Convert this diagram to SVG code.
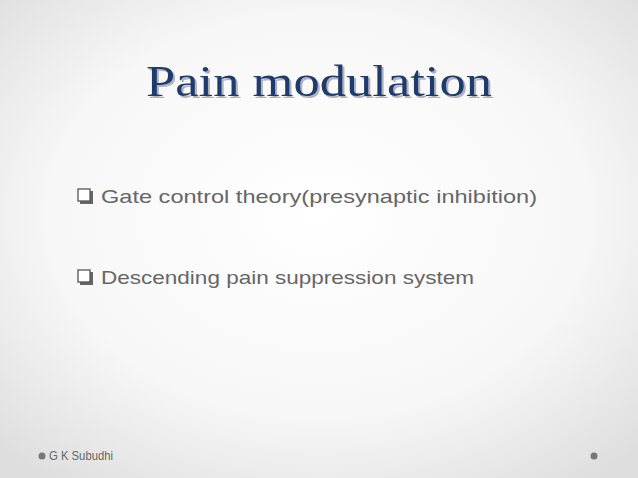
<svg xmlns="http://www.w3.org/2000/svg" width="638" height="478" viewBox="0 0 638 478">
<defs>
<radialGradient id="bg" cx="50%" cy="45%" r="70%">
<stop offset="0" stop-color="#ffffff"/><stop offset="0.6" stop-color="#f7f7f7"/><stop offset="1" stop-color="#dedede"/>
</radialGradient>
<filter id="sh" x="-10%" y="-20%" width="120%" height="140%">
<feDropShadow dx="2" dy="2" stdDeviation="0.6" flood-color="#a0a0a8" flood-opacity="0.8"/>
</filter>
<style>
.t{font-family:"Liberation Serif",serif;font-size:44px;fill:#1f3b6e}
.b{font-family:"Liberation Sans",sans-serif;font-size:19px;fill:#666}
.f{font-family:"Liberation Sans",sans-serif;font-size:12px;fill:#666}
.box{fill:#fff;stroke:#555;stroke-width:1.3}
.sh{fill:#666}
</style>
</defs>
<rect width="638" height="478" fill="url(#bg)"/>
<text class="t" x="319" y="96" text-anchor="middle" textLength="346" lengthAdjust="spacingAndGlyphs" filter="url(#sh)">Pain modulation</text>
<g id="b1">
<rect class="sh" x="80" y="191" width="13" height="13"/><rect class="box" x="78" y="189" width="12" height="12"/>
<text class="b" x="101" y="203" textLength="436" lengthAdjust="spacingAndGlyphs">Gate control theory(presynaptic inhibition)</text>
</g>
<g id="b2">
<rect class="sh" x="80" y="272" width="13" height="13"/><rect class="box" x="78" y="270" width="12" height="12"/>
<text class="b" x="101" y="284" textLength="373" lengthAdjust="spacingAndGlyphs">Descending pain suppression system</text>
</g>
<circle cx="42" cy="456" r="3.5" fill="#777"/>
<text class="f" x="49" y="460" textLength="64" lengthAdjust="spacingAndGlyphs">G K Subudhi</text>
<circle cx="594" cy="456" r="3.5" fill="#777"/>
</svg>
